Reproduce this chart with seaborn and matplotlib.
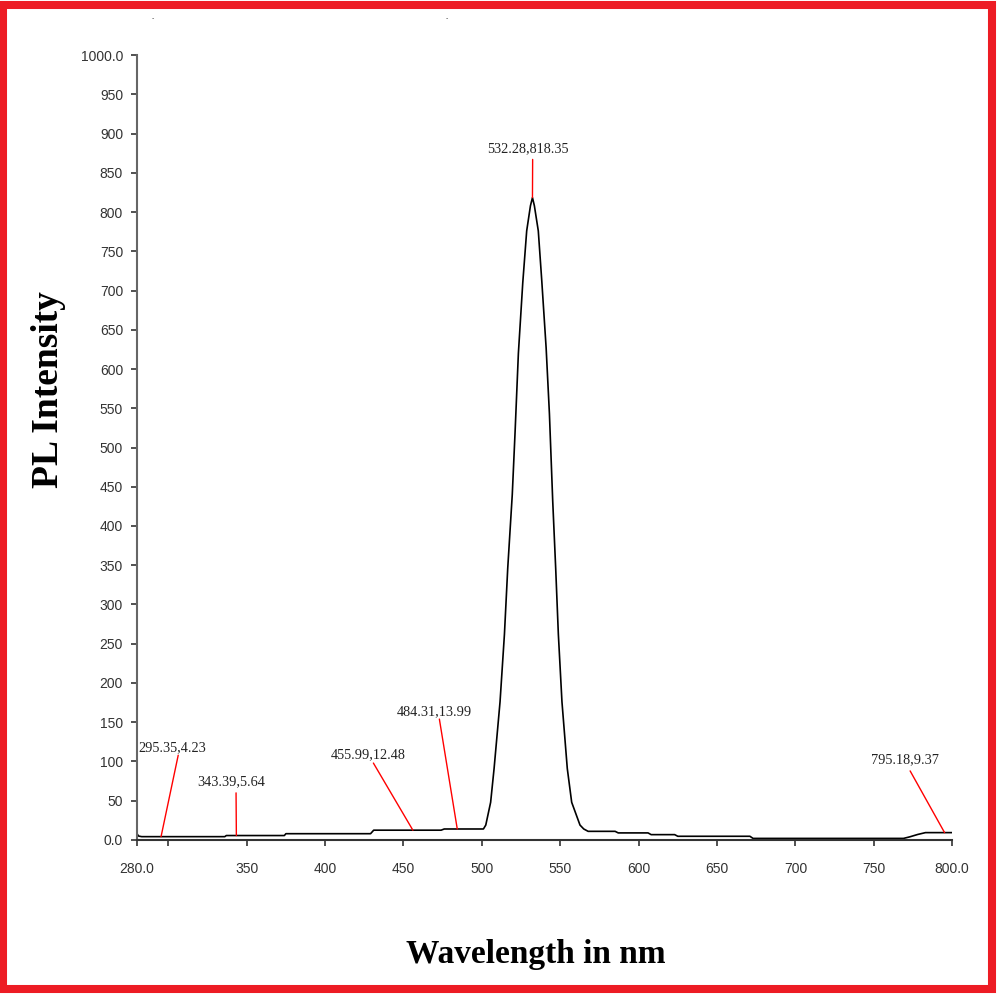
import pandas as pd
import matplotlib
matplotlib.use("Agg")
import matplotlib.pyplot as plt
from matplotlib.patches import Rectangle
import seaborn as sns

# spectrum (wavelength in nm, PL intensity)
wavelength = [280, 281, 283, 300, 336, 337, 374, 375, 429, 431, 474, 476,
              499, 501, 502.5, 505.6, 507.8, 511.6, 514.4, 516.5, 519.4,
              521.2, 523.3, 526.1, 528.6, 531, 532.28, 533.5, 536, 538.2,
              541, 543.1, 545.2, 547.1, 548.8, 551.1, 554.5, 557.3, 562.6,
              565, 567.8, 585, 587, 606, 608, 623, 625, 671, 673, 769, 773,
              778, 783, 800]
intensity = [8, 5, 4.23, 4.23, 4.23, 5.64, 5.64, 8, 8, 12.48, 12.48, 13.99,
             13.99, 14, 19, 48, 91, 176, 262, 346, 440,
             520, 620, 710, 776, 808, 818.35, 808, 776, 713,
             627, 543, 432, 346, 262, 176, 91, 48, 19,
             14, 11, 11, 9, 9, 6.8, 6.8, 4.7, 4.7, 2.0, 2.0, 4,
             7, 9.37, 9.37]

# labelled peaks
peak_wl = [295.35, 343.39, 455.99, 484.31, 532.28, 795.18]
peak_int = [4.23, 5.64, 12.48, 13.99, 818.35, 9.37]
# where each label sits (text centre) and where its red leader ends
label_xy = [(302.5, 118), (339.9, 74), (427.6, 109), (469.6, 164), (529.2, 881), (770, 102)]
leader_end = [(306.3, 108), (343.2, 60), (430.8, 98), (472.9, 154), (532.4, 867), (773.2, 88)]

xticks = [280, 300, 350, 400, 450, 500, 550, 600, 650, 700, 750, 800]
xtick_labels = ["280.0", "", "350", "400", "450", "500", "550", "600", "650", "700", "750", "800.0"]
yticks = list(range(0, 1001, 50))
ytick_labels = ["0.0"] + [str(v) for v in yticks[1:-1]] + ["1000.0"]

df = pd.DataFrame({"wavelength": wavelength, "intensity": intensity})

sns.set_style("ticks")
plt.rcParams["font.family"] = ["Liberation Sans", "DejaVu Sans"]

fig = plt.figure(figsize=(9.97, 9.97), dpi=100)
ax = fig.add_axes([0.1374, 0.1575, 0.8176, 0.7873])

sns.lineplot(data=df, x="wavelength", y="intensity", ax=ax, color="black",
             linewidth=1.2, estimator=None, sort=False)

for wl, it, (tx, ty), (lx, ly) in zip(peak_wl, peak_int, label_xy, leader_end):
    ax.plot([wl, lx], [it, ly], color="red", linewidth=1.0)
    ax.text(tx, ty, f"{wl:.2f},{it:.2f}", ha="center", va="center",
            fontsize=10.3, family=["Liberation Serif", "DejaVu Serif"], color="#222222")

ax.set_xlim(280, 800)
ax.set_ylim(0, 1000)
ax.set_xticks(xticks)
ax.set_xticklabels(xtick_labels)
ax.set_yticks(yticks)
ax.set_yticklabels(ytick_labels)
ax.tick_params(axis="both", labelsize=10, colors="#333333", length=4, width=1.2)
ax.tick_params(axis="x", pad=12)
ax.tick_params(axis="y", pad=6)
ax.set_xlabel("")
ax.set_ylabel("")
sns.despine(ax=ax)
ax.spines["left"].set_color("#666666")
ax.spines["bottom"].set_color("#333333")
ax.spines["left"].set_linewidth(1.5)
ax.spines["bottom"].set_linewidth(1.5)

fig.text(0.5374, 0.034, "Wavelength in nm", ha="center", va="baseline", color="black",
         fontsize=24, fontweight="bold", family=["Liberation Serif", "DejaVu Serif"])
fig.text(0.049, 0.609, "PL Intensity", ha="center", va="center", rotation=90, color="black",
         fontsize=27, fontweight="bold", family=["Liberation Serif", "DejaVu Serif"])

# small specks at the top of the original
fig.text(153 / 997, 1 - 19 / 997, "-", fontsize=5, ha="center", va="center", color="#444444")
fig.text(447 / 997, 1 - 19 / 997, "-", fontsize=5, ha="center", va="center", color="#444444")

# red frame around the whole picture
fig.patches.append(Rectangle((0.0035, 0.0085), 0.991, 0.9865, transform=fig.transFigure,
                             fill=False, edgecolor="#ED1C24", linewidth=5.8))

fig.savefig("out.png", dpi=100)
